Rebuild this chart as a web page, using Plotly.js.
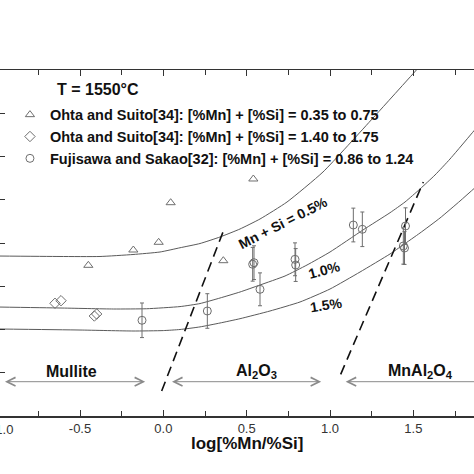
<!DOCTYPE html>
<html>
<head>
<meta charset="utf-8">
<script src="https://cdn.plot.ly/plotly-3.0.1.min.js"></script>
<style>html,body{margin:0;padding:0;background:#fff;}#chart{width:474px;height:474px;}</style>
</head>
<body>
<div id="chart"></div>
<script>
// ---- data (x = log[%Mn/%Si], y in axis units) ----
const triX = [-0.450, -0.180, -0.028, 0.044, 0.360, 0.540];
const triY = [3.484, 3.838, 4.016, 4.932, 3.591, 5.480];

const diaX = [-0.650, -0.614, -0.414, -0.400];
const diaY = [2.606, 2.666, 2.312, 2.358];

const cirX = [-0.128, 0.264, 0.536, 0.544, 0.580, 0.790, 0.794, 1.140, 1.194, 1.453, 1.440, 1.447];
const cirY = [2.213, 2.428, 3.508, 3.545, 2.929, 3.623, 3.491, 4.416, 4.317, 4.393, 3.931, 3.884];
const cirErr = [0.40, 0.40, 0.39, 0.39, 0.38, 0.38, 0.38, 0.39, 0.40, 0.42, 0.42, 0.38];

const curve05X = [-1.0, -0.620, -0.380, -0.182, -0.020, 0.100, 0.220, 0.340, 0.460, 0.580, 0.742, 0.958, 1.258, 1.540];
const curve05Y = [3.699, 3.688, 3.688, 3.734, 3.792, 3.890, 3.988, 4.139, 4.324, 4.555, 4.948, 5.642, 6.890, 8.092];

const curve10X = [-1.0, -0.620, -0.300, -0.100, 0.100, 0.220, 0.340, 0.460, 0.580, 0.730, 0.862, 1.000, 1.198, 1.360, 1.450, 1.540, 1.630, 1.720, 1.888];
const curve10Y = [2.520, 2.497, 2.474, 2.480, 2.530, 2.600, 2.728, 2.867, 3.029, 3.237, 3.491, 3.792, 4.301, 4.700, 4.948, 5.249, 5.572, 5.942, 6.705];

const curve15X = [-1.0, -0.500, -0.182, 0.000, 0.100, 0.220, 0.340, 0.460, 0.640, 0.820, 1.000, 1.180, 1.360, 1.438, 1.540, 1.660, 1.780, 1.888];
const curve15Y = [2.012, 1.988, 1.965, 1.975, 2.000, 2.060, 2.150, 2.250, 2.428, 2.636, 2.936, 3.329, 3.746, 3.954, 4.231, 4.578, 4.971, 5.341];

const dash1X = [-0.010, 0.358];
const dash1Y = [0.578, 4.254];
const dash2X = [1.064, 1.560];
const dash2Y = [0.964, 5.410];

const regionNames = ['Mullite', 'Al<sub>2</sub>O<sub>3</sub>', 'MnAl<sub>2</sub>O<sub>4</sub>'];
const regionStart = [-0.950, 0.052, 1.094];
const regionEnd = [-0.100, 0.956, 1.95];
const regionLabelX = [-0.550, 0.560, 1.540];
const regionArrowY = 0.793;
const regionLabelY = 1.026;

const curveLabels = ['Mn + Si = 0.5%', '1.0%', '1.5%'];
const curveLabelX = [0.715, 0.964, 0.976];
const curveLabelY = [4.474, 3.387, 2.566];
const curveLabelAngle = [-27, -15, -9];

const xTickVals = [-0.5, 0, 0.5, 1.0, 1.5];
const xTickText = ['-0.5', '0.0', '0.5', '1.0', '1.5'];

const legendNames = [
  'Ohta and Suito[34]: [%Mn] + [%Si] = 0.35 to 0.75',
  'Ohta and Suito[34]: [%Mn] + [%Si] = 1.40 to 1.75',
  'Fujisawa and Sakao[32]: [%Mn] + [%Si] = 0.86 to 1.24'
];

// ---- styling ----
const FONT = 'Arial, "Liberation Sans", sans-serif';
const markGray = '#6e6e6e';
const curveGray = '#5a5a5a';

const traces = [];
[[curve05X, curve05Y], [curve10X, curve10Y], [curve15X, curve15Y]].forEach(c => {
  traces.push({x: c[0], y: c[1], mode: 'lines', type: 'scatter', showlegend: false,
    line: {color: curveGray, width: 1, shape: 'spline', smoothing: 0.5}, hoverinfo: 'skip'});
});
[[dash1X, dash1Y], [dash2X, dash2Y]].forEach(d => {
  traces.push({x: d[0], y: d[1], mode: 'lines', type: 'scatter', showlegend: false,
    line: {color: '#111', width: 1.6, dash: '10px,6px'}, hoverinfo: 'skip'});
});
traces.push({x: triX, y: triY, mode: 'markers', type: 'scatter', name: legendNames[0],
  marker: {symbol: 'triangle-up-open', size: 8, color: markGray, line: {width: 1, color: markGray}}});
traces.push({x: diaX, y: diaY, mode: 'markers', type: 'scatter', name: legendNames[1],
  marker: {symbol: 'diamond-open', size: 8, color: markGray, line: {width: 1, color: markGray}}});
traces.push({x: cirX, y: cirY, mode: 'markers', type: 'scatter', name: legendNames[2],
  error_y: {type: 'data', array: cirErr, visible: true, color: markGray, thickness: 1, width: 2},
  marker: {symbol: 'circle-open', size: 8, color: markGray, line: {width: 1, color: markGray}}});

const annotations = [];
regionNames.forEach((n, i) => {
  annotations.push({xref: 'x', yref: 'y', x: regionLabelX[i], y: regionLabelY, text: n, showarrow: false,
    font: {family: FONT, size: 16, color: '#111', weight: 'bold'}, xanchor: 'center', yanchor: 'middle'});
  annotations.push({xref: 'x', yref: 'y', axref: 'x', ayref: 'y', x: regionStart[i], y: regionArrowY,
    ax: regionEnd[i], ay: regionArrowY, text: '', showarrow: true, arrowhead: 5, startarrowhead: 5,
    arrowside: i === 2 ? 'end' : 'end+start', arrowsize: 1.7, startarrowsize: 1.7,
    arrowwidth: 1, arrowcolor: '#8a8a8a', standoff: 0, startstandoff: 0});
});
curveLabels.forEach((t, i) => {
  annotations.push({xref: 'x', yref: 'y', x: curveLabelX[i], y: curveLabelY[i], text: t, showarrow: false,
    textangle: curveLabelAngle[i], font: {family: FONT, size: 14, color: '#111', weight: 'bold'}});
});
annotations.push({xref: 'paper', yref: 'paper', x: 98 / 474, y: 0.944, text: 'T = 1550°C', showarrow: false,
  font: {family: FONT, size: 16, color: '#111', weight: 'bold'}, xanchor: 'center', yanchor: 'middle'});
annotations.push({xref: 'x', yref: 'paper', x: 0.5, y: -0.08, text: 'log[%Mn/%Si]', showarrow: false,
  font: {family: FONT, size: 17, color: '#111', weight: 'bold'}, xanchor: 'center', yanchor: 'middle'});
annotations.push({xref: 'paper', yref: 'paper', x: 15 / 474, y: -0.0376, text: '-1.0', showarrow: false,
  font: {family: FONT, size: 13, color: '#333'}, xanchor: 'right', yanchor: 'middle'});

const layout = {
  width: 474, height: 474,
  margin: {l: 0, r: 0, t: 70, b: 58, pad: 0},
  paper_bgcolor: '#fff', plot_bgcolor: '#fff',
  font: {family: FONT, color: '#222'},
  showlegend: true,
  legend: {x: 0.021, y: 0.917, xanchor: 'left', yanchor: 'top', bgcolor: 'rgba(0,0,0,0)',
    font: {family: FONT, size: 14.5, color: '#111', weight: 'bold'}, itemwidth: 30, tracegroupgap: 0},
  xaxis: {range: [-0.98, 1.864], showgrid: false, zeroline: false,
    showline: true, linecolor: '#333', linewidth: 1.5, mirror: 'ticks',
    ticks: 'inside', ticklen: 6, tickwidth: 1, tickcolor: '#333',
    tickmode: 'array', tickvals: xTickVals, ticktext: xTickText,
    tickfont: {family: FONT, size: 13, color: '#333'},
    minor: {dtick: 0.25, tick0: 0, ticks: 'inside', ticklen: 5, tickcolor: '#333', tickwidth: 1, showgrid: false}},
  yaxis: {range: [0, 8], showgrid: false, zeroline: false, showline: false,
    ticks: 'inside', ticklen: 5, tickwidth: 1, tickcolor: '#333', dtick: 1, tick0: 0,
    showticklabels: false},
  annotations: annotations
};

Plotly.newPlot('chart', traces, layout, {staticPlot: true, displayModeBar: false});
</script>
</body>
</html>
